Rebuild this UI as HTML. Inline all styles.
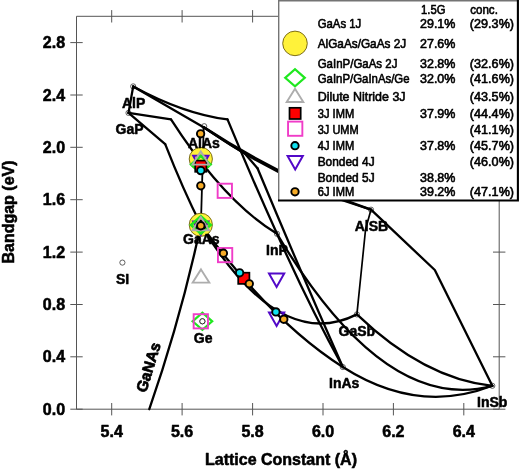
<!DOCTYPE html>
<html lang="en"><head><meta charset="utf-8"><title>Bandgap vs Lattice Constant</title>
<style>html,body{margin:0;padding:0;background:#fff}body{width:520px;height:470px;overflow:hidden}</style></head>
<body>
<svg width="520" height="470" viewBox="0 0 520 470" style="display:block">
<rect x="0" y="0" width="520" height="470" fill="#fff"/>
<g stroke="#555" stroke-width="1" fill="none" shape-rendering="auto">
<path d="M76.5 16.3 H499.2 V409.2 H76.5 Z"/>
<path d="M111.7 403.0 V415.4"/>
<path d="M111.7 10.100000000000001 V22.5"/>
<path d="M182.1 403.0 V415.4"/>
<path d="M182.1 10.100000000000001 V22.5"/>
<path d="M252.6 403.0 V415.4"/>
<path d="M252.6 10.100000000000001 V22.5"/>
<path d="M323.0 403.0 V415.4"/>
<path d="M323.0 10.100000000000001 V22.5"/>
<path d="M393.4 403.0 V415.4"/>
<path d="M393.4 10.100000000000001 V22.5"/>
<path d="M463.8 403.0 V415.4"/>
<path d="M463.8 10.100000000000001 V22.5"/>
<path d="M70.3 409.2 H82.7"/>
<path d="M493.0 409.2 H505.4"/>
<path d="M70.3 356.8 H82.7"/>
<path d="M493.0 356.8 H505.4"/>
<path d="M70.3 304.5 H82.7"/>
<path d="M493.0 304.5 H505.4"/>
<path d="M70.3 252.1 H82.7"/>
<path d="M493.0 252.1 H505.4"/>
<path d="M70.3 199.7 H82.7"/>
<path d="M493.0 199.7 H505.4"/>
<path d="M70.3 147.3 H82.7"/>
<path d="M493.0 147.3 H505.4"/>
<path d="M70.3 95.0 H82.7"/>
<path d="M493.0 95.0 H505.4"/>
<path d="M70.3 42.6 H82.7"/>
<path d="M493.0 42.6 H505.4"/>
</g>
<g font-family="'Liberation Sans', sans-serif" font-weight="bold" font-size="16" fill="#000" stroke="#000" stroke-width="0.55" stroke-linejoin="round">
<text x="111.7" y="436.5" text-anchor="middle">5.4</text>
<text x="182.1" y="436.5" text-anchor="middle">5.6</text>
<text x="252.6" y="436.5" text-anchor="middle">5.8</text>
<text x="323.0" y="436.5" text-anchor="middle">6.0</text>
<text x="393.4" y="436.5" text-anchor="middle">6.2</text>
<text x="463.8" y="436.5" text-anchor="middle">6.4</text>
<text x="65.1" y="414.7" text-anchor="end">0.0</text>
<text x="65.1" y="362.3" text-anchor="end">0.4</text>
<text x="65.1" y="310.0" text-anchor="end">0.8</text>
<text x="65.1" y="257.6" text-anchor="end">1.2</text>
<text x="65.1" y="205.2" text-anchor="end">1.6</text>
<text x="65.1" y="152.8" text-anchor="end">2.0</text>
<text x="65.1" y="100.5" text-anchor="end">2.4</text>
<text x="65.1" y="48.1" text-anchor="end">2.8</text>
<text x="281" y="465" text-anchor="middle">Lattice Constant (Å)</text>
<text transform="translate(14 212) rotate(-90)" text-anchor="middle">Bandgap (eV)</text>
</g>
<g stroke="#3a3a3a" stroke-width="0.8" fill="#fff">
<circle cx="133.2" cy="86.4" r="2.6"/>
<circle cx="128.5" cy="112.9" r="2.6"/>
<circle cx="204.2" cy="126.2" r="2.6"/>
<circle cx="200.8" cy="224.8" r="2.6"/>
<circle cx="277" cy="233.8" r="2.6"/>
<circle cx="371" cy="209.7" r="2.6"/>
<circle cx="356.9" cy="314.4" r="2.6"/>
<circle cx="342.8" cy="367" r="2.6"/>
<circle cx="492.3" cy="385.8" r="2.6"/>
<circle cx="122.4" cy="262.6" r="2.6"/>
<circle cx="202.4" cy="321.3" r="2.6"/>
</g>
<g stroke="#000" stroke-width="2.3" fill="none" stroke-linejoin="round" stroke-linecap="round">
<path d="M133.2 86.4 L128.5 112.9"/>
<path d="M133.2 86.4 Q183.8 113.9 227.5 119.4"/>
<path d="M227.5 119.4 Q252.2 179.1 277.0 233.8"/>
<path d="M133.2 86.4 Q168.6 107.0 204.0 127.6"/>
<path d="M128.5 112.9 L165.2 144.2"/>
<path d="M165.2 144.2 Q183.0 189.5 200.8 224.8"/>
<path d="M128.5 112.9 L171.0 119.4"/>
<path d="M171 119.4 Q224 201.7 277 233.8"/>
<path d="M200.8 224.8 Q181.3 316.85 149.3 409.2"/>
<path d="M200.8 224.8 Q271.8 321.9 342.8 367.0"/>
<path d="M200.8 224.8 Q278.9 353.6 356.9 314.4"/>
<path d="M342.8 367.0 Q417.6 414.9 492.3 385.8"/>
<path d="M356.9 314.4 Q424.6 379.1 492.3 385.8"/>
<path d="M277.0 233.8 Q384.6 414.8 492.3 385.8"/>
<path d="M277.0 233.8 Q309.9 307.4 342.8 367.0"/>
<path d="M204 127.6 Q224.5 141.3 245 153.8 L257.5 168.3"/>
<path d="M257.5 168.3 Q300.1 270.6 342.8 367.0"/>
<path d="M371.0 209.7 L434.8 270.0 L492.3 385.8"/>
<path d="M203.7 127.4 L200.9 224.8" stroke-width="1.8"/>
<path d="M371.0 209.7 L365.6 229.0 L356.9 314.4" stroke-width="1.7"/>
<path d="M204 127.2 Q287.5 181.4 371 209.7" stroke-width="2.4"/>
<path d="M204 127.6 Q287.5 184.6 371 209.7" stroke-width="2.4"/>
</g>
<g>
<circle cx="200.8" cy="159" r="11.6" fill="#fff23a" stroke="#5a4a00" stroke-width="0.8"/>
<circle cx="200.8" cy="224.8" r="11.6" fill="#fff23a" stroke="#5a4a00" stroke-width="0.8"/>
<path d="M193.20000000000002 155.8 L208.4 155.8 L200.8 169.20000000000002 Z" fill="none" stroke="#5209c8" stroke-width="2"/>
<path d="M193.20000000000002 221.5 L208.4 221.5 L200.8 234.9 Z" fill="none" stroke="#5209c8" stroke-width="2"/>
<path d="M269.0 273.5 L284.20000000000005 273.5 L276.6 286.9 Z" fill="none" stroke="#5209c8" stroke-width="2"/>
<path d="M269.0 312.5 L284.20000000000005 312.5 L276.6 325.9 Z" fill="none" stroke="#5209c8" stroke-width="2"/>
<path d="M191.0 164.6 L200.8 156.0 L210.60000000000002 164.6 L200.8 173.2 Z" fill="none" stroke="#1fe81f" stroke-width="2.5"/>
<path d="M191.0 224.9 L200.8 216.3 L210.60000000000002 224.9 L200.8 233.5 Z" fill="none" stroke="#1fe81f" stroke-width="2.7"/>
<path d="M192.6 321.3 L202.4 312.7 L212.20000000000002 321.3 L202.4 329.90000000000003 Z" fill="none" stroke="#1fe81f" stroke-width="2.2"/>
<rect x="195.20000000000002" y="160.6" width="11.2" height="11.2" fill="#f00" stroke="#000" stroke-width="1.7"/>
<rect x="238.20000000000002" y="272.7" width="11.2" height="11.2" fill="#f00" stroke="#000" stroke-width="1.7"/>
<rect x="217.65" y="183.70000000000002" width="14.3" height="14.2" fill="none" stroke="#f03cc8" stroke-width="1.9"/>
<rect x="217.95" y="248.0" width="14.3" height="14.2" fill="none" stroke="#f03cc8" stroke-width="1.9"/>
<rect x="193.65" y="314.2" width="14.3" height="14.2" fill="none" stroke="#f03cc8" stroke-width="1.9"/>
<circle cx="200.8" cy="170.6" r="3.7" fill="#12e2f0" stroke="#000" stroke-width="1.9"/>
<circle cx="200.8" cy="225.3" r="5.7" fill="#000"/>
<circle cx="239.6" cy="272.8" r="3.7" fill="#12e2f0" stroke="#000" stroke-width="1.9"/>
<circle cx="275.9" cy="311.9" r="3.7" fill="#12e2f0" stroke="#000" stroke-width="1.9"/>
<path d="M200.8 151.4 L209.10000000000002 164.6 L192.5 164.6 Z" fill="none" stroke="#adadad" stroke-width="1.9"/>
<path d="M200.8 217.0 L209.10000000000002 230.2 L192.5 230.2 Z" fill="none" stroke="#adadad" stroke-width="1.9"/>
<path d="M201 269.40000000000003 L209.3 282.6 L192.7 282.6 Z" fill="none" stroke="#adadad" stroke-width="1.9"/>
<circle cx="200.6" cy="133.8" r="3.7" fill="#f5ab27" stroke="#000" stroke-width="1.9"/>
<circle cx="200.8" cy="185.8" r="3.7" fill="#f5ab27" stroke="#000" stroke-width="1.9"/>
<circle cx="200.8" cy="225.8" r="3.7" fill="#f5ab27" stroke="#000" stroke-width="1.9"/>
<circle cx="223.4" cy="253.2" r="3.7" fill="#f5ab27" stroke="#000" stroke-width="1.9"/>
<circle cx="249.3" cy="283.8" r="3.7" fill="#f5ab27" stroke="#000" stroke-width="1.9"/>
<circle cx="283.8" cy="319.3" r="3.7" fill="#f5ab27" stroke="#000" stroke-width="1.9"/>
</g>
<circle cx="202.4" cy="321.3" r="2.6" fill="#fff" stroke="#222" stroke-width="0.9"/>
<g font-family="'Liberation Sans', sans-serif" font-weight="bold" font-size="14" fill="#000" stroke="#000" stroke-width="0.5" stroke-linejoin="round">
<text x="122" y="108">AlP</text>
<text x="115.5" y="134">GaP</text>
<text x="188" y="148">AlAs</text>
<text x="183" y="244.3">GaAs</text>
<text x="266" y="254.8">InP</text>
<text x="354.7" y="231">AlSB</text>
<text x="338.6" y="336.2">GaSb</text>
<text x="329" y="387.8">InAs</text>
<text x="477" y="407">InSb</text>
<text x="116" y="284">SI</text>
<text x="193.8" y="342.5">Ge</text>
<text transform="translate(153.6 368.8) rotate(-73)" text-anchor="middle" font-size="15.4" stroke-width="0.7">GaNAs</text>
</g>
<rect x="278.5" y="0.5" width="239.5" height="200.3" fill="#fff" stroke="none"/>
<path d="M278.7 201 V0.7 H518" fill="none" stroke="#747474" stroke-width="1.4"/>
<path d="M278 200.5 H517.9 V0" fill="none" stroke="#000" stroke-width="2.1"/>
<circle cx="295" cy="43.4" r="12.3" fill="#fff23a" stroke="#5a4a00" stroke-width="0.8"/>
<path d="M285.2 77.8 L295 69.2 L304.8 77.8 L295 86.39999999999999 Z" fill="none" stroke="#1fe81f" stroke-width="2.2"/>
<path d="M295 88.8 L303.3 102 L286.7 102 Z" fill="none" stroke="#adadad" stroke-width="1.9"/>
<rect x="289.5" y="107.80000000000001" width="11.2" height="11.2" fill="#f00" stroke="#000" stroke-width="1.7"/>
<rect x="288.05" y="121.6" width="14.3" height="14.2" fill="none" stroke="#f03cc8" stroke-width="1.9"/>
<circle cx="295" cy="145.7" r="3.7" fill="#12e2f0" stroke="#000" stroke-width="1.9"/>
<path d="M287.59999999999997 156.1 L302.8 156.1 L295.2 169.5 Z" fill="none" stroke="#5209c8" stroke-width="2"/>
<circle cx="295" cy="191.8" r="3.7" fill="#f5ab27" stroke="#000" stroke-width="1.9"/>
<g font-family="'Liberation Sans', sans-serif" font-size="12.6" fill="#000" stroke="#000" stroke-width="0.6" stroke-linejoin="round">
<text x="421" y="13.7" textLength="24.4" lengthAdjust="spacingAndGlyphs">1.5G</text>
<text x="470.2" y="13.7" textLength="27.7" lengthAdjust="spacingAndGlyphs">conc.</text>
<text x="317.7" y="27.7" textLength="43.6" lengthAdjust="spacingAndGlyphs">GaAs 1J</text>
<text x="420" y="27.7" textLength="35.4" lengthAdjust="spacingAndGlyphs">29.1%</text>
<text x="469.8" y="27.7" textLength="44.3" lengthAdjust="spacingAndGlyphs">(29.3%)</text>
<text x="317.7" y="47.6" textLength="88.5" lengthAdjust="spacingAndGlyphs">AlGaAs/GaAs 2J</text>
<text x="420" y="47.6" textLength="35.4" lengthAdjust="spacingAndGlyphs">27.6%</text>
<text x="317.7" y="67.5" textLength="79.7" lengthAdjust="spacingAndGlyphs">GaInP/GaAs 2J</text>
<text x="420" y="67.5" textLength="35.4" lengthAdjust="spacingAndGlyphs">32.8%</text>
<text x="469.8" y="67.5" textLength="44.3" lengthAdjust="spacingAndGlyphs">(32.6%)</text>
<text x="317.7" y="83" textLength="91.9" lengthAdjust="spacingAndGlyphs">GaInP/GaInAs/Ge</text>
<text x="420" y="83" textLength="35.4" lengthAdjust="spacingAndGlyphs">32.0%</text>
<text x="469.8" y="83" textLength="44.3" lengthAdjust="spacingAndGlyphs">(41.6%)</text>
<text x="317.7" y="100.9" textLength="87.9" lengthAdjust="spacingAndGlyphs">Dilute Nitride 3J</text>
<text x="469.8" y="100.9" textLength="44.3" lengthAdjust="spacingAndGlyphs">(43.5%)</text>
<text x="317.7" y="117.9" textLength="36.5" lengthAdjust="spacingAndGlyphs">3J IMM</text>
<text x="420" y="117.9" textLength="35.4" lengthAdjust="spacingAndGlyphs">37.9%</text>
<text x="469.8" y="117.9" textLength="44.3" lengthAdjust="spacingAndGlyphs">(44.4%)</text>
<text x="317.7" y="133.8" textLength="41" lengthAdjust="spacingAndGlyphs">3J UMM</text>
<text x="469.8" y="133.8" textLength="44.3" lengthAdjust="spacingAndGlyphs">(41.1%)</text>
<text x="317.7" y="149.7" textLength="36.5" lengthAdjust="spacingAndGlyphs">4J IMM</text>
<text x="420" y="149.7" textLength="35.4" lengthAdjust="spacingAndGlyphs">37.8%</text>
<text x="469.8" y="149.7" textLength="44.3" lengthAdjust="spacingAndGlyphs">(45.7%)</text>
<text x="317.7" y="165.9" textLength="56.9" lengthAdjust="spacingAndGlyphs">Bonded 4J</text>
<text x="469.8" y="165.9" textLength="44.3" lengthAdjust="spacingAndGlyphs">(46.0%)</text>
<text x="317.7" y="181.7" textLength="56.9" lengthAdjust="spacingAndGlyphs">Bonded 5J</text>
<text x="420" y="181.7" textLength="35.4" lengthAdjust="spacingAndGlyphs">38.8%</text>
<text x="317.7" y="195.8" textLength="36.5" lengthAdjust="spacingAndGlyphs">6J IMM</text>
<text x="420" y="195.8" textLength="35.4" lengthAdjust="spacingAndGlyphs">39.2%</text>
<text x="469.8" y="195.8" textLength="44.3" lengthAdjust="spacingAndGlyphs">(47.1%)</text>
</g>
</svg>
</body></html>
